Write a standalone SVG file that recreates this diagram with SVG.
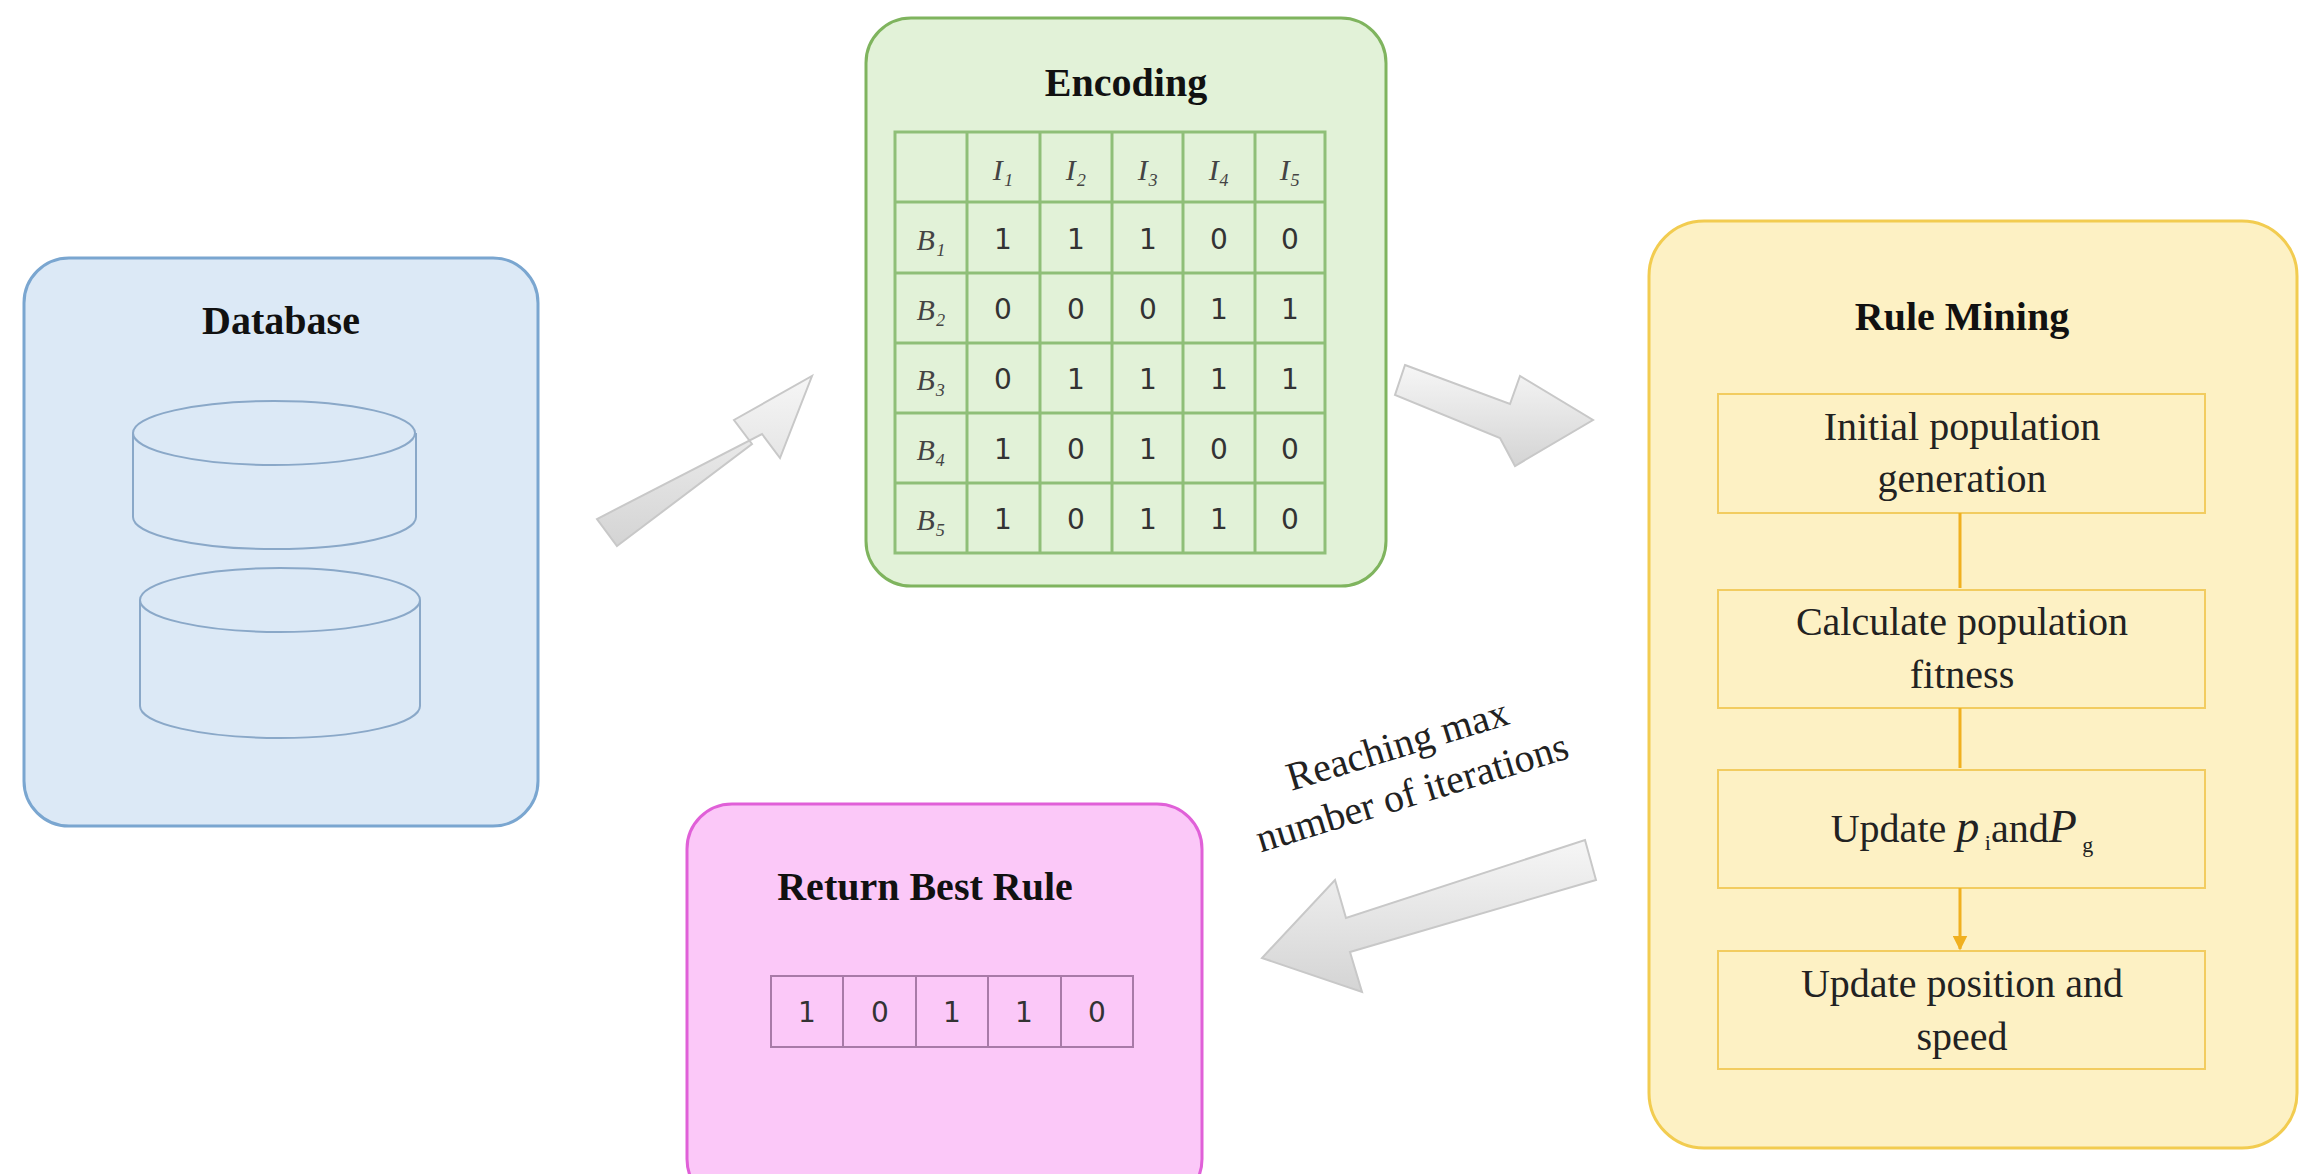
<svg xmlns="http://www.w3.org/2000/svg" width="2306" height="1174" viewBox="0 0 2306 1174">
<defs>
<style>
.t{font-family:"Liberation Serif",serif;font-weight:bold;font-size:40px;text-anchor:middle;fill:#111}
.s{font-family:"Liberation Serif",serif;font-size:40px;text-anchor:middle;fill:#222}
.c{font-family:"DejaVu Sans",sans-serif;font-size:28px;text-anchor:middle;fill:#333}
.ci{font-family:"Liberation Serif",serif;font-style:italic;font-size:30px;text-anchor:middle;fill:#444}
.g{fill:none;stroke:#8fbf78;stroke-width:3}
.cyl{fill:none;stroke:#8aa8c8;stroke-width:2}
.ib{fill:#fdf1c4;stroke:#f2cc60;stroke-width:2}
.arr{fill:url(#ag);stroke:#c8c8c8;stroke-width:2}
</style>
<linearGradient id="ag" x1="0" y1="0" x2="0" y2="1"><stop offset="0" stop-color="#f6f6f6"/><stop offset="1" stop-color="#d4d4d4"/></linearGradient>
<marker id="m" viewBox="0 0 10 10" refX="9" refY="5" markerWidth="5" markerHeight="5" orient="auto"><path d="M0,0L10,5L0,10z" fill="#f0b020"/></marker>
<symbol id="bigarrow" viewBox="0 0 240 110" overflow="visible"><path d="M0,30 L150,30 L150,0 L240,55 L150,110 L150,80 L0,80 Z"/></symbol>
</defs>
<rect width="2306" height="1174" fill="#fff"/>
<g id="database">
<rect x="24" y="258" width="514" height="568" rx="45" fill="#dce9f6" stroke="#7aa6d0" stroke-width="3"/>
<text class="t" x="281" y="334">Database</text>
<path class="cyl" d="M133,433 V517 A141,32 0 0 0 416,517 V433"/><ellipse class="cyl" cx="274" cy="433" rx="141" ry="32"/>
<path class="cyl" d="M140,600 V706 A140,32 0 0 0 420,706 V600"/><ellipse class="cyl" cx="280" cy="600" rx="140" ry="32"/>
</g>
<g id="encoding">
<rect x="866" y="18" width="520" height="568" rx="45" fill="#e2f2d8" stroke="#7fb45e" stroke-width="3"/>
<text class="t" x="1126" y="96">Encoding</text>
<rect class="g" x="895" y="132" width="430" height="421"/>
<path class="g" d="M967,132V553M1040,132V553M1112,132V553M1183,132V553M1255,132V553M895,202H1325M895,273H1325M895,343H1325M895,413H1325M895,483H1325"/>
<g class="ci"><text x="1003" y="180">I₁</text><text x="1076" y="180">I₂</text><text x="1148" y="180">I₃</text><text x="1219" y="180">I₄</text><text x="1290" y="180">I₅</text>
<text x="931" y="250">B₁</text><text x="931" y="320">B₂</text><text x="931" y="390">B₃</text><text x="931" y="460">B₄</text><text x="931" y="530">B₅</text></g>
<g class="c">
<text x="1003" y="249">1</text><text x="1076" y="249">1</text><text x="1148" y="249">1</text><text x="1219" y="249">0</text><text x="1290" y="249">0</text>
<text x="1003" y="319">0</text><text x="1076" y="319">0</text><text x="1148" y="319">0</text><text x="1219" y="319">1</text><text x="1290" y="319">1</text>
<text x="1003" y="389">0</text><text x="1076" y="389">1</text><text x="1148" y="389">1</text><text x="1219" y="389">1</text><text x="1290" y="389">1</text>
<text x="1003" y="459">1</text><text x="1076" y="459">0</text><text x="1148" y="459">1</text><text x="1219" y="459">0</text><text x="1290" y="459">0</text>
<text x="1003" y="529">1</text><text x="1076" y="529">0</text><text x="1148" y="529">1</text><text x="1219" y="529">1</text><text x="1290" y="529">0</text>
</g>
</g>
<g id="rulemining">
<rect x="1649" y="221" width="648" height="927" rx="55" fill="#fdf1c4" stroke="#f2cc50" stroke-width="3"/>
<text class="t" x="1962" y="330">Rule Mining</text>
<rect class="ib" x="1718" y="394" width="487" height="119"/>
<text class="s" x="1962" y="440">Initial population</text><text class="s" x="1962" y="492">generation</text>
<rect class="ib" x="1718" y="590" width="487" height="118"/>
<text class="s" x="1962" y="635">Calculate population</text><text class="s" x="1962" y="688">fitness</text>
<rect class="ib" x="1718" y="770" width="487" height="118"/>
<text class="s" x="1962" y="842">Update <tspan font-style="italic" font-size="46">p</tspan><tspan font-size="22" dy="8"> i</tspan><tspan dy="-8">and</tspan><tspan font-style="italic" font-size="46">P</tspan><tspan font-size="22" dy="10"> g</tspan></text>
<rect class="ib" x="1718" y="951" width="487" height="118"/>
<text class="s" x="1962" y="997">Update position and</text><text class="s" x="1962" y="1050">speed</text>
</g>
<g id="returnbest">
<rect x="687" y="804" width="515" height="400" rx="45" fill="#fbc8f8" stroke="#e060d8" stroke-width="3"/>
<text class="t" x="925" y="900">Return Best Rule</text>
<rect x="771" y="976" width="362" height="71" fill="none" stroke="#a87aa8" stroke-width="2"/>
<path d="M843,976V1047M916,976V1047M988,976V1047M1061,976V1047" stroke="#a87aa8" stroke-width="2"/>
<g class="c"><text x="807" y="1022">1</text><text x="880" y="1022">0</text><text x="952" y="1022">1</text><text x="1024" y="1022">1</text><text x="1097" y="1022">0</text></g>
</g>
<g id="connectors">
<path class="arr" d="M617,546 L752,444 L734,420 L812,376 L780,458 L762,434 L597,519 Z"/>
<path class="arr" d="M1405,375 L1510,414 L1520,386 L1593,430 L1515,476 L1500,448 L1395,405 Z" transform="translate(0,-10)"/>
<path class="arr" d="M1596,880 L1350,952 L1362,992 L1262,958 L1335,880 L1346,918 L1585,840 Z"/>
<path d="M1960,513V588M1960,708V768M1960,888V949" stroke="#f0b020" stroke-width="3" marker-end="url(#m)"/>
<g transform="translate(1410,786) rotate(-17)"><text class="s" x="0" y="-30">Reaching max</text><text class="s" x="0" y="20">number of iterations</text></g>
</g>
</svg>
